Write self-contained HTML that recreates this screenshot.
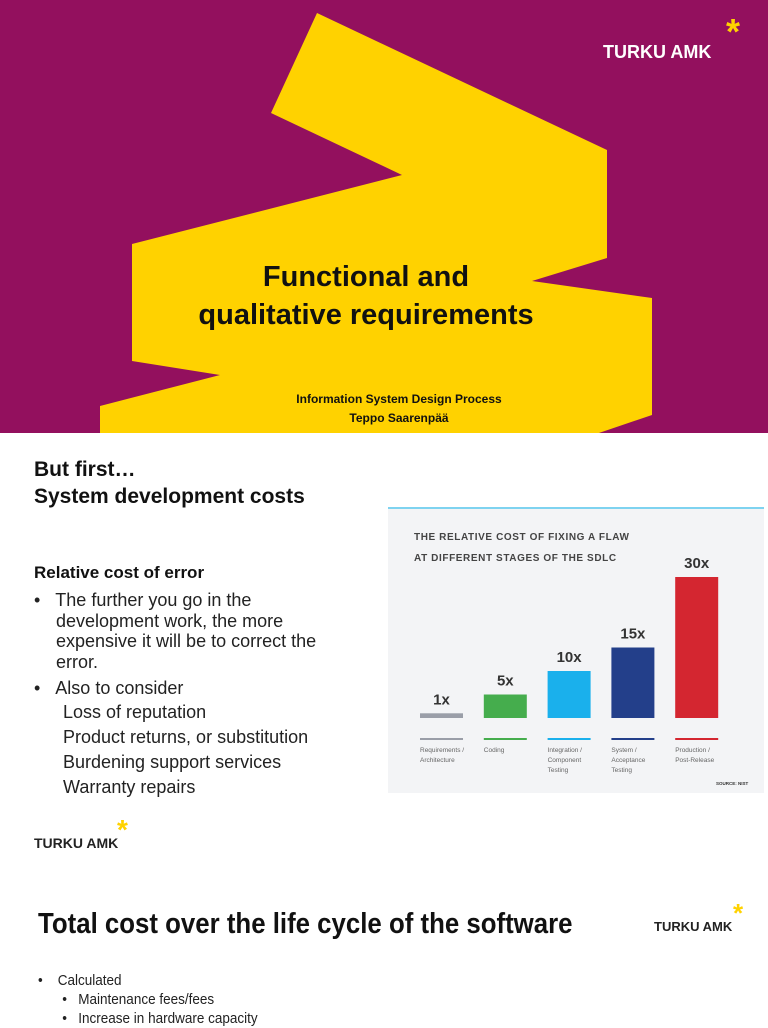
<!DOCTYPE html>
<html><head><meta charset="utf-8"><style>
body{margin:0;width:768px;height:1024px;position:relative;overflow:hidden;background:#fff;font-family:"Liberation Sans",sans-serif;}
.a{position:absolute;white-space:nowrap;line-height:1;}
</style></head><body>
<div style="position:absolute;left:0;top:0;width:768px;height:433px;background:#93105e;overflow:hidden;">
<svg width="768" height="433" style="position:absolute;left:0;top:0">
<polygon points="317,13 607,150 607,258 532,281 652,298 652,415 593,435 100,435 100,406 220,375 132,361 132,244 402,175 271,113" fill="#ffd200"/>
</svg>
<div class="a" style="left:0;width:732px;text-align:center;top:258px;font-size:29px;font-weight:bold;line-height:38px;color:#111">Functional and<br>qualitative requirements</div>
<div class="a" style="left:0;width:798px;text-align:center;top:390px;font-size:12px;font-weight:bold;line-height:19px;color:#111">Information System Design Process<br>Teppo Saarenpää</div>
<div class="a" style="left:603px;top:43px;font-size:18px;font-weight:bold;color:#fff">TURKU AMK</div>
<div class="a" style="left:726px;top:14px;font-size:36px;font-weight:bold;color:#ffd200">*</div>
</div>

<div class="a" style="left:34px;top:456px;font-size:21px;font-weight:bold;line-height:27px;color:#111">But first…<br>System development costs</div>
<div class="a" style="left:34px;top:564px;font-size:17px;font-weight:bold;color:#111">Relative cost of error</div>
<div class="a" style="left:34px;top:590px;font-size:18px;line-height:20.7px;color:#222">
<div>•&nbsp;&nbsp;&nbsp;The further you go in the</div>
<div style="padding-left:22px">development work, the more<br>expensive it will be to correct the<br>error.</div>
<div style="margin-top:5px">•&nbsp;&nbsp;&nbsp;Also to consider</div>
<div style="padding-left:29px;line-height:25.3px;margin-top:1px">Loss of reputation<br>Product returns, or substitution<br>Burdening support services<br>Warranty repairs</div>
</div>
<div class="a" style="left:34px;top:836px;font-size:14px;font-weight:bold;color:#222">TURKU AMK</div>
<div class="a" style="left:117px;top:816px;font-size:28px;font-weight:bold;color:#ffd200">*</div>

<svg width="376" height="286" style="position:absolute;left:388px;top:507px" id="chart"></svg>

<div class="a" style="left:38px;top:910px;font-size:29px;font-weight:bold;color:#111;transform:scaleX(0.89);transform-origin:0 0">Total cost over the life cycle of the software</div>
<div class="a" style="left:654px;top:920px;font-size:13px;font-weight:bold;color:#222">TURKU AMK</div>
<div class="a" style="left:733px;top:900px;font-size:26px;font-weight:bold;color:#ffd200">*</div>
<div class="a" style="left:38px;top:971px;font-size:15px;line-height:19px;color:#222;transform:scaleX(0.9);transform-origin:0 0">
<div>•&nbsp;&nbsp;&nbsp;&nbsp;Calculated</div>
<div style="padding-left:27px">•&nbsp;&nbsp;&nbsp;Maintenance fees/fees</div>
<div style="padding-left:27px">•&nbsp;&nbsp;&nbsp;Increase in hardware capacity</div>
</div>

<script>
const categories=["Requirements /|Architecture","Coding","Integration /|Component|Testing","System /|Acceptance|Testing","Production /|Post-Release"];
const values=[1,5,10,15,30];
const valueLabels=["1x","5x","10x","15x","30x"];
const colors=["#9a9ea8","#45ad4d","#1ab0ec","#233f8a","#d42630"];
const svg=document.getElementById('chart');
const NS="http://www.w3.org/2000/svg";
function mk(t,a){const e=document.createElementNS(NS,t);for(const k in a)e.setAttribute(k,a[k]);svg.appendChild(e);return e;}
let bg=mk('rect',{x:0,y:0,width:376,height:286,fill:'#f3f4f6'});


let tl=mk('rect',{x:0,y:0,width:376,height:2,fill:'#7fd3f0'});


const t1=mk('text',{x:26,y:33,'font-size':10,'font-weight':'bold',fill:'#444','letter-spacing':'0.6'});t1.textContent="THE RELATIVE COST OF FIXING A FLAW";


const t2=mk('text',{x:26,y:54,'font-size':10,'font-weight':'bold',fill:'#444','letter-spacing':'0.6'});t2.textContent="AT DIFFERENT STAGES OF THE SDLC";


const base=211, maxV=30, maxH=141;
function yScale(v){return base-v/maxV*maxH;}
function xScale(i){return 32+i*63.8;}
const bw=43;
values.forEach((v,i)=>{
  const x=xScale(i),y=yScale(v);
  const r=mk('rect',{x:x,y:y,width:bw,height:base-y,fill:colors[i]});
  
  
  const l=mk('text',{x:x+bw/2,y:y-9,'font-size':15,'font-weight':'bold','text-anchor':'middle',fill:'#333'});l.textContent=valueLabels[i];
  
  
  const u=mk('rect',{x:x,y:231,width:bw,height:2,fill:colors[i]});
  
  
  categories[i].split('|').forEach((s,j)=>{
    const c=mk('text',{x:x,y:245+j*10,'font-size':6.5,fill:'#666'});c.textContent=s;
    
    
  });
});
const src=mk('text',{x:328,y:278,'font-size':4.5,'font-weight':'bold',fill:'#333'});src.textContent="SOURCE: NIST";


</script>
</body></html>
